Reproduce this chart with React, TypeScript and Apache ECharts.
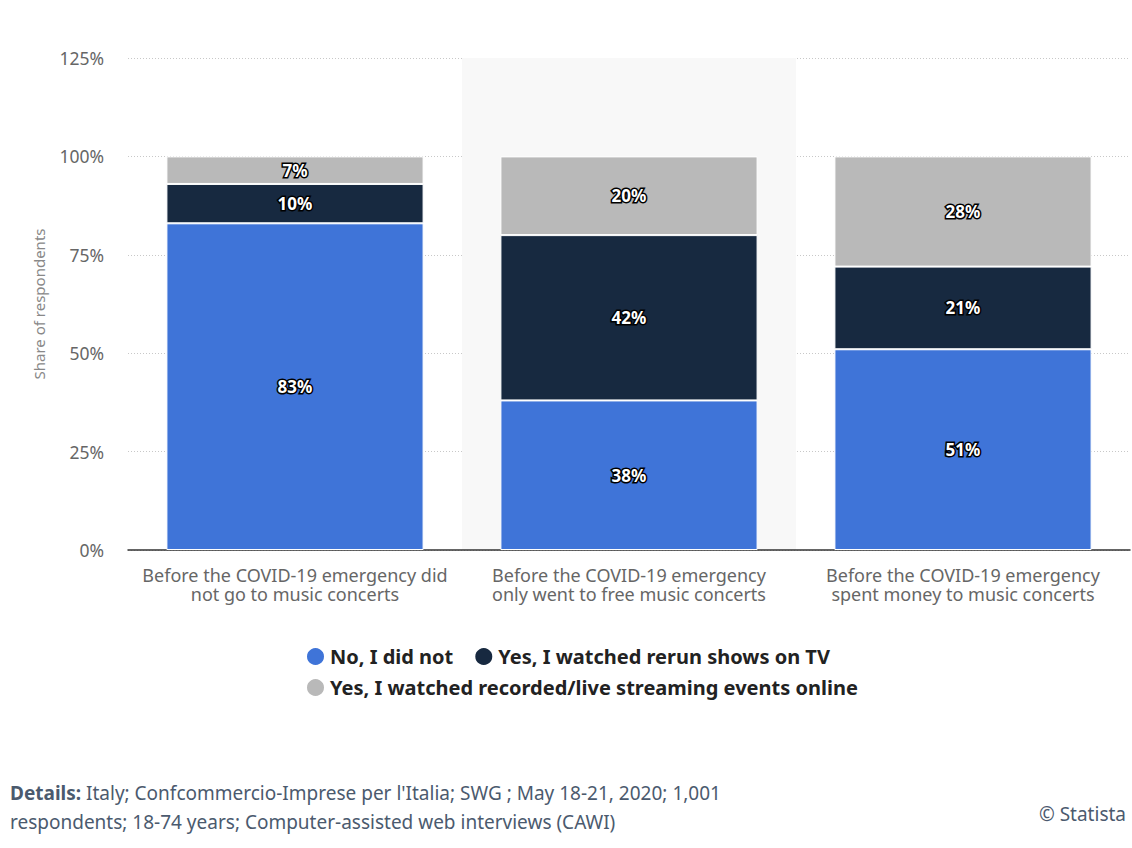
import React, { useEffect, useRef } from "react";
import * as echarts from "echarts";

const categories = [
  "Before the COVID-19 emergency did\nnot go to music concerts",
  "Before the COVID-19 emergency\nonly went to free music concerts",
  "Before the COVID-19 emergency\nspent money to music concerts",
];
const seriesNames = [
  "No, I did not",
  "Yes, I watched rerun shows on TV",
  "Yes, I watched recorded/live streaming events online",
];
const noDidNot = [83, 38, 51];
const rerunTV = [10, 42, 21];
const streamingOnline = [7, 20, 28];
const colors = ["#3f74d8", "#172940", "#b9b9b9"];
const yTicks = [0, 25, 50, 75, 100, 125];

const FONT = "'Noto Sans', 'Open Sans', sans-serif";

export default function App() {
  const ref = useRef<HTMLDivElement>(null);
  useEffect(() => {
    if (!ref.current) return;
    const chart = echarts.init(ref.current, undefined, { renderer: "svg" });
    const values = [noDidNot, rerunTV, streamingOnline];
    const legendBase = {
      left: 300,
      itemWidth: 19,
      itemHeight: 19,
      itemGap: 20,
      icon: "circle",
      textStyle: { fontSize: 20, fontWeight: "bold", color: "#222", fontFamily: FONT },
    };
    chart.setOption({
      animation: false,
      textStyle: { fontFamily: FONT },
      grid: { left: 128, right: 2, top: 58, bottom: 298, containLabel: false },
      legend: [
        { ...legendBase, top: 641, data: seriesNames.slice(0, 2) },
        { ...legendBase, top: 672, data: seriesNames.slice(2) },
      ],
      xAxis: {
        type: "category",
        data: categories,
        axisTick: { show: false },
        axisLine: { lineStyle: { color: "#333", width: 1.5 } },
        axisLabel: { interval: 0, color: "#666", fontSize: 18, lineHeight: 19, margin: 15, fontFamily: FONT },
        splitArea: { show: true, interval: 0, areaStyle: { color: ["rgba(0,0,0,0)", "#f8f8f8"] } },
      },
      yAxis: {
        type: "value",
        min: yTicks[0],
        max: yTicks[yTicks.length - 1],
        interval: 25,
        name: "Share of respondents",
        nameLocation: "middle",
        nameGap: 82,
        nameTextStyle: { color: "#888", fontSize: 15, fontFamily: FONT },
        axisLabel: { formatter: "{value}%", color: "#666", fontSize: 17.5, margin: 24, fontFamily: FONT },
        axisLine: { show: false },
        axisTick: { show: false },
        splitLine: { lineStyle: { color: "#c8c8c8", type: [1, 2], width: 1 } },
      },
      series: seriesNames.map((name, i) => ({
        name,
        type: "bar",
        stack: "total",
        barWidth: "77%",
        data: values[i],
        itemStyle: { color: colors[i], borderColor: "#fff", borderWidth: 1 },
        label: {
          show: true,
          position: "inside",
          formatter: "{c}%",
          color: "#fff",
          fontSize: 17,
          fontWeight: "bold",
          textBorderColor: "#000",
          textBorderWidth: 3,
          fontFamily: FONT,
        },
      })),
      graphic: [
        {
          type: "text",
          left: 10,
          top: 778,
          style: {
            text: "{b|Details:} Italy; Confcommercio-Imprese per l'Italia; SWG ; May 18-21, 2020; 1,001\nrespondents; 18-74 years; Computer-assisted web interviews (CAWI)",
            fill: "#4b5a6e",
            fontSize: 19,
            lineHeight: 29,
            fontFamily: FONT,
            rich: {
              b: { fontWeight: "bold", fontSize: 19, fill: "#4b5a6e", fontFamily: FONT },
            },
          },
        },
        {
          type: "text",
          right: 6,
          top: 804,
          style: { text: "© Statista", fill: "#4b5a6e", fontSize: 19, fontFamily: FONT },
        },
      ],
    });
    return () => chart.dispose();
  }, []);
  return (
    <div
      ref={ref}
      style={{ position: "absolute", left: 0, top: 0, width: 1132, height: 848, background: "#fff" }}
    />
  );
}
